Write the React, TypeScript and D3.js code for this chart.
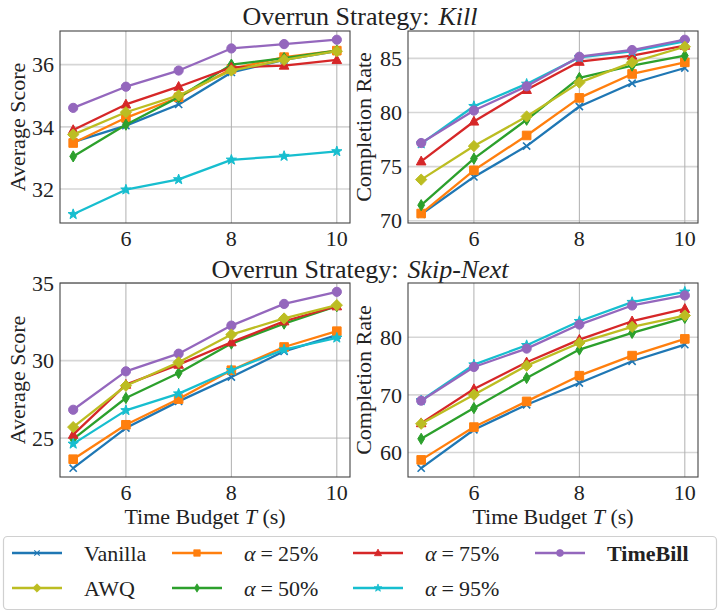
import * as d3 from 'd3'

// budgets on the x axis (seconds)
const budgets = [5, 6, 7, 8, 9, 10]

// Overrun strategy: Kill — average score
const killScoreVanilla = [33.51, 34.04, 34.72, 35.75, 36.15, 36.43]
const killScore25 = [33.48, 34.29, 34.95, 35.86, 36.24, 36.45]
const killScore50 = [33.05, 34.07, 34.95, 36.0, 36.21, 36.45]
const killScore75 = [33.9, 34.72, 35.29, 35.91, 35.97, 36.15]
const killScore95 = [31.19, 31.98, 32.31, 32.94, 33.06, 33.21]
const killScoreTimeBill = [34.61, 35.29, 35.81, 36.52, 36.66, 36.8]
const killScoreAWQ = [33.75, 34.47, 35.01, 35.81, 36.15, 36.43]

// Overrun strategy: Kill — completion rate
const killRateVanilla = [70.6, 74.05, 76.9, 80.55, 82.7, 84.11]
const killRate25 = [70.67, 74.66, 77.88, 81.35, 83.56, 84.63]
const killRate50 = [71.44, 75.74, 79.33, 83.19, 84.33, 85.25]
const killRate75 = [75.49, 79.17, 82.09, 84.69, 85.25, 86.17]
const killRate95 = [77.12, 80.58, 82.64, 85.09, 85.64, 86.56]
const killRateTimeBill = [77.18, 80.18, 82.42, 85.15, 85.77, 86.72]
const killRateAWQ = [73.8, 76.9, 79.63, 82.76, 84.63, 86.07]

// Overrun strategy: Skip-Next — average score
const skipScoreVanilla = [23.06, 25.65, 27.37, 28.94, 30.6, 31.64]
const skipScore25 = [23.64, 25.86, 27.52, 29.38, 30.88, 31.9]
const skipScore50 = [24.94, 27.59, 29.2, 31.1, 32.39, 33.51]
const skipScore75 = [25.22, 28.45, 29.74, 31.19, 32.54, 33.51]
const skipScore95 = [24.63, 26.79, 27.87, 29.38, 30.71, 31.47]
const skipScoreTimeBill = [26.83, 29.31, 30.45, 32.26, 33.66, 34.44]
const skipScoreAWQ = [25.71, 28.38, 29.89, 31.68, 32.72, 33.58]

// Overrun strategy: Skip-Next — completion rate
const skipRateVanilla = [57.28, 63.94, 68.29, 72.06, 75.83, 78.72]
const skipRate25 = [58.72, 64.41, 68.87, 73.33, 76.81, 79.71]
const skipRate50 = [62.38, 67.71, 72.93, 77.86, 80.75, 83.36]
const skipRate75 = [65.1, 71.01, 75.65, 79.59, 82.78, 84.93]
const skipRate95 = [69.04, 75.25, 78.61, 82.78, 86.09, 87.88]
const skipRateTimeBill = [68.99, 74.84, 78.03, 82.2, 85.51, 87.25]
const skipRateAWQ = [64.99, 70.03, 75.07, 79.01, 81.8, 83.77]

const xTicks = [6, 8, 10]
const killScoreTicks = [32, 34, 36]
const killRateTicks = [70, 75, 80, 85]
const skipScoreTicks = [25, 30, 35]
const skipRateTicks = [60, 70, 80]

type Marker = 'x' | 's' | 'd' | '^' | '*' | 'o' | 'D'

// drawing order (AWQ last so it sits on top)
const series: { key: string; color: string; marker: Marker }[] = [
  { key: 'Vanilla', color: '#1f77b4', marker: 'x' },
  { key: 'a25', color: '#ff7f0e', marker: 's' },
  { key: 'a50', color: '#2ca02c', marker: 'd' },
  { key: 'a75', color: '#d62728', marker: '^' },
  { key: 'a95', color: '#17becf', marker: '*' },
  { key: 'TimeBill', color: '#9467bd', marker: 'o' },
  { key: 'AWQ', color: '#bcbd22', marker: 'D' },
]

const panels = [
  {
    col: 0, row: 0, yLabel: 'Average Score', yTicks: killScoreTicks,
    values: [killScoreVanilla, killScore25, killScore50, killScore75, killScore95, killScoreTimeBill, killScoreAWQ],
  },
  {
    col: 1, row: 0, yLabel: 'Completion Rate', yTicks: killRateTicks,
    values: [killRateVanilla, killRate25, killRate50, killRate75, killRate95, killRateTimeBill, killRateAWQ],
  },
  {
    col: 0, row: 1, yLabel: 'Average Score', yTicks: skipScoreTicks,
    values: [skipScoreVanilla, skipScore25, skipScore50, skipScore75, skipScore95, skipScoreTimeBill, skipScoreAWQ],
  },
  {
    col: 1, row: 1, yLabel: 'Completion Rate', yTicks: skipRateTicks,
    values: [skipRateVanilla, skipRate25, skipRate50, skipRate75, skipRate95, skipRateTimeBill, skipRateAWQ],
  },
]

// legend entries, column-major like matplotlib ncol=4
const legendItems: { label: string; seriesIdx: number }[] = [
  { label: 'Vanilla', seriesIdx: 0 },
  { label: 'AWQ', seriesIdx: 6 },
  { label: '25%', seriesIdx: 1 },
  { label: '50%', seriesIdx: 2 },
  { label: '75%', seriesIdx: 3 },
  { label: '95%', seriesIdx: 4 },
  { label: 'TimeBill', seriesIdx: 5 },
]

const W = 720
const H = 614
const FONT = '"Liberation Serif", "DejaVu Serif", serif'
const colX = [[60, 350], [408, 698]]
const rowY = [[31, 223], [283, 477]]
const yLabelX = [25, 371]
const titles = [
  { y: 25, name: 'Kill' },
  { y: 278, name: 'Skip-Next' },
]

function markerPath(m: Marker): string {
  switch (m) {
    case 'o': {
      const r = 4.6
      return `M${r},0A${r},${r} 0 1,1 ${-r},0A${r},${r} 0 1,1 ${r},0Z`
    }
    case 's':
      return 'M-4.3,-4.3H4.3V4.3H-4.3Z'
    case '^':
      return 'M0,-5.2L4.8,3.6L-4.8,3.6Z'
    case 'D':
      return 'M0,-5.6L5.6,0L0,5.6L-5.6,0Z'
    case 'd':
      return 'M0,-5.6L3.4,0L0,5.6L-3.4,0Z'
    case 'x':
      return 'M-3.6,-3.6L3.6,3.6M-3.6,3.6L3.6,-3.6'
    case '*': {
      const pts: string[] = []
      for (let i = 0; i < 10; i++) {
        const r = i % 2 === 0 ? 5.4 : 2.2
        const a = (Math.PI / 5) * i - Math.PI / 2
        pts.push(`${(r * Math.cos(a)).toFixed(2)},${(r * Math.sin(a)).toFixed(2)}`)
      }
      return 'M' + pts.join('L') + 'Z'
    }
  }
}

function MarkerShape({ m, color, x, y }: { m: Marker; color: string; x: number; y: number }) {
  const isStroke = m === 'x'
  return (
    <path
      d={markerPath(m)}
      transform={`translate(${x},${y})`}
      fill={isStroke ? 'none' : color}
      stroke={color}
      strokeWidth={isStroke ? 1.6 : 1}
      strokeLinejoin="miter"
    />
  )
}

function Panel({ p }: { p: (typeof panels)[number] }) {
  const [x0, x1] = colX[p.col]
  const [y0, y1] = rowY[p.row]
  const x = d3.scaleLinear().domain([4.75, 10.25]).range([x0, x1])
  const all = p.values.flat()
  const [lo, hi] = d3.extent(all) as [number, number]
  const pad = (hi - lo) * 0.05
  const y = d3.scaleLinear().domain([lo - pad, hi + pad]).range([y1, y0])
  const line = d3
    .line<number>()
    .x((_, i) => x(budgets[i]))
    .y((d) => y(d))
  return (
    <g>
      <rect x={x0} y={y0} width={x1 - x0} height={y1 - y0} fill="white" />
      {p.yTicks.map((t) => (
        <line key={'gy' + t} x1={x0} x2={x1} y1={y(t)} y2={y(t)} stroke="#d6d6d6" strokeWidth={1.6} />
      ))}
      {xTicks.map((t) => (
        <line key={'gx' + t} x1={x(t)} x2={x(t)} y1={y0} y2={y1} stroke="#b0b0b0" strokeWidth={1} />
      ))}
      {series.map((s, si) => (
        <g key={s.key}>
          <path d={line(p.values[si]) ?? ''} fill="none" stroke={s.color} strokeWidth={2.3} strokeLinejoin="round" />
          {p.values[si].map((v, i) => (
            <MarkerShape key={i} m={s.marker} color={s.color} x={x(budgets[i])} y={y(v)} />
          ))}
        </g>
      ))}
      <rect x={x0} y={y0} width={x1 - x0} height={y1 - y0} fill="none" stroke="#444" strokeWidth={1.1} />
      {p.yTicks.map((t) => (
        <text key={'ty' + t} x={x0 - 6} y={y(t)} dy="0.35em" textAnchor="end" fontSize={22} fontFamily={FONT} fill="#222">
          {t}
        </text>
      ))}
      {xTicks.map((t) => (
        <text key={'tx' + t} x={x(t)} y={y1 + 23} textAnchor="middle" fontSize={22} fontFamily={FONT} fill="#222">
          {t}
        </text>
      ))}
      <text
        transform={`translate(${yLabelX[p.col]},${(y0 + y1) / 2}) rotate(-90)`}
        textAnchor="middle"
        fontSize={22}
        fontFamily={FONT}
        fill="#222"
      >
        {p.yLabel}
      </text>
      {p.row === 1 && (
        <text x={(x0 + x1) / 2} y={y1 + 47} textAnchor="middle" fontSize={22} fontFamily={FONT} fill="#222">
          Time Budget <tspan fontStyle="italic">T</tspan> (s)
        </text>
      )}
    </g>
  )
}

function Legend() {
  const colStart = [12, 172, 353, 535]
  const rowCenter = [553, 588]
  return (
    <g>
      <rect x={3.5} y={536.5} width={713} height={73} rx={4} fill="white" stroke="#d0d0d0" strokeWidth={1.2} />
      {legendItems.map((item, i) => {
        const s = series[item.seriesIdx]
        const cx = colStart[Math.floor(i / 2)]
        const cy = rowCenter[i % 2]
        const isAlpha = item.label.endsWith('%')
        return (
          <g key={item.label}>
            <line x1={cx} x2={cx + 50} y1={cy} y2={cy} stroke={s.color} strokeWidth={2.3} />
            <g transform={`translate(${cx + 25},${cy}) scale(0.75)`}>
              <MarkerShape m={s.marker} color={s.color} x={0} y={0} />
            </g>
            <text
              x={cx + 72}
              y={cy}
              dy="0.35em"
              fontSize={22}
              fontFamily={FONT}
              fill="#222"
              fontWeight={item.label === 'TimeBill' ? 'bold' : 'normal'}
            >
              {isAlpha ? (
                <>
                  <tspan fontStyle="italic">α</tspan>
                  <tspan dx={5}>=</tspan>
                  <tspan dx={5}>{item.label}</tspan>
                </>
              ) : (
                item.label
              )}
            </text>
          </g>
        )
      })}
    </g>
  )
}

export default function App() {
  return (
    <svg
      width={W}
      height={H}
      viewBox={`0 0 ${W} ${H}`}
      style={{ position: 'absolute', left: 0, top: 0, background: 'white' }}
    >
      <rect width={W} height={H} fill="white" />
      {titles.map((t) => (
        <text key={t.name} x={360} y={t.y} textAnchor="middle" fontSize={26} fontFamily={FONT} fill="#222">
          Overrun Strategy:<tspan dx={9} fontStyle="italic">{t.name}</tspan>
        </text>
      ))}
      {panels.map((p, i) => (
        <Panel key={i} p={p} />
      ))}
      <Legend />
    </svg>
  )
}
